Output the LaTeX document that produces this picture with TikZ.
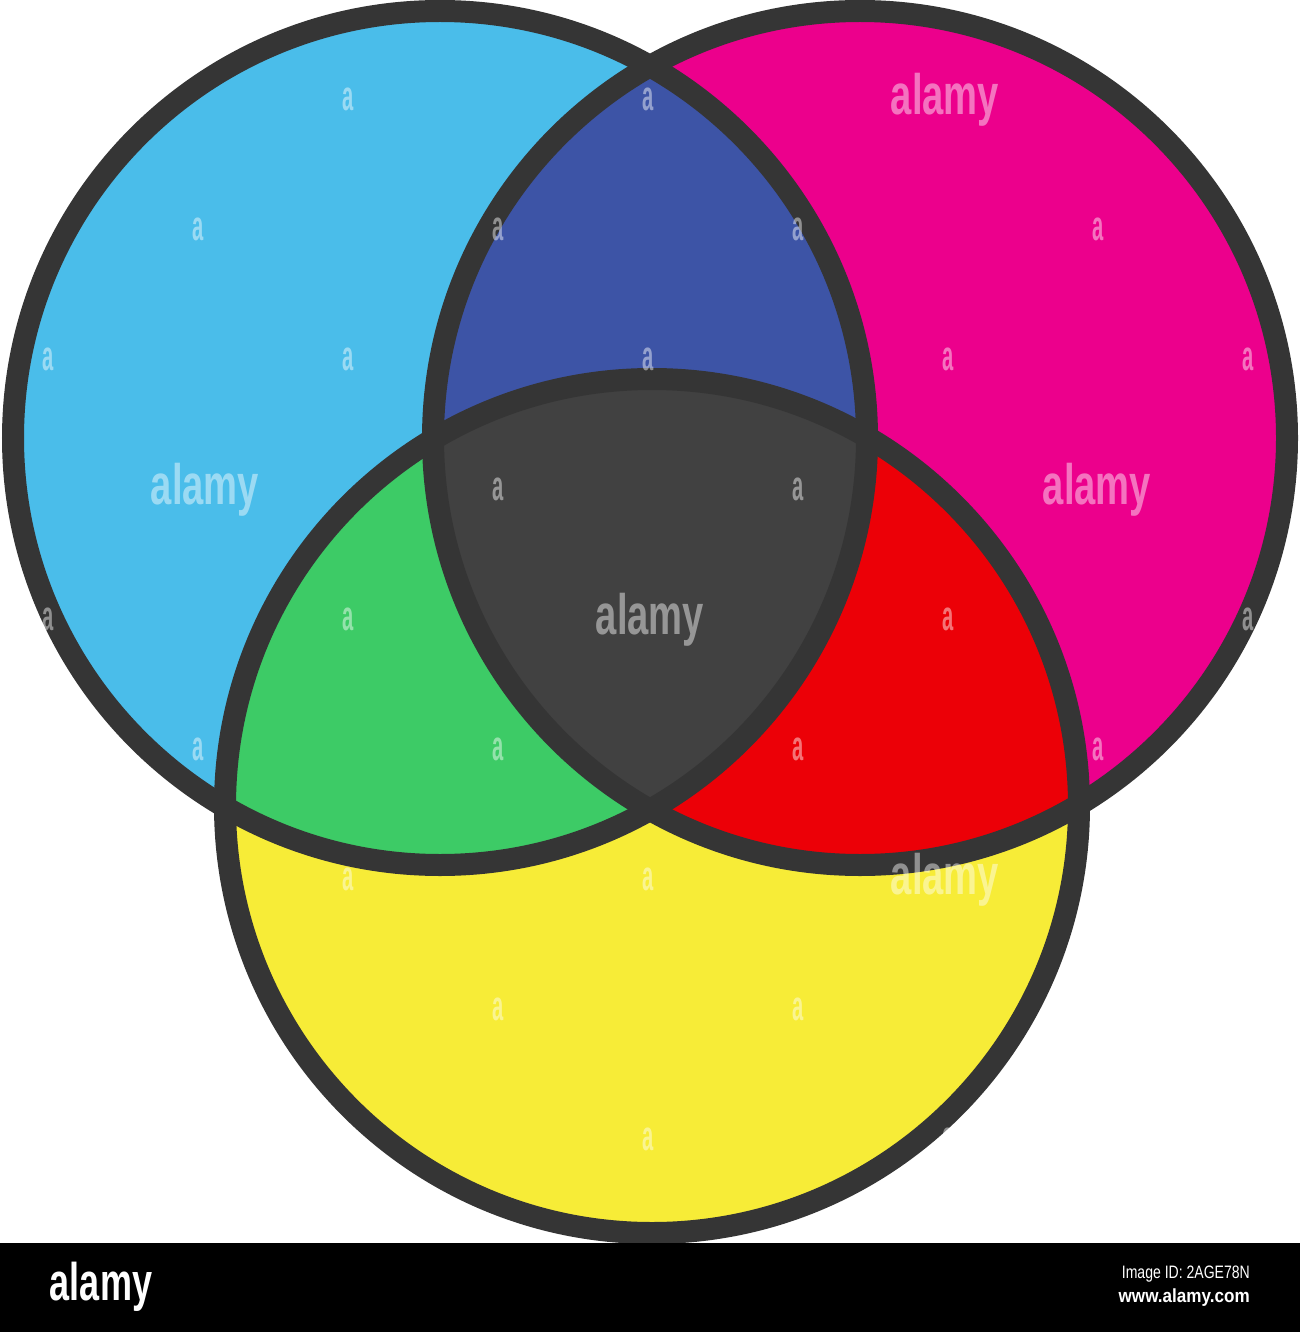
\documentclass[tikz,border=0pt]{standalone}
\usepackage{fontspec}
\setmainfont{Liberation Sans}
\begin{document}
\begin{tikzpicture}[x=1pt,y=-1pt,
  wmsmall/.style={text=white,opacity=0.45,font=\bfseries\fontsize{42}{42}\selectfont,xscale=0.48,inner sep=0pt},
  wmbig/.style={text=white,opacity=0.45,font=\bfseries\fontsize{57}{57}\selectfont,xscale=0.67,inner sep=0pt},
  outline/.style={draw=lineC,line width=22pt}]
\definecolor{cyanF}{HTML}{4ABDEA}
\definecolor{magF}{HTML}{EC008C}
\definecolor{yelF}{HTML}{F7EC37}
\definecolor{blueF}{HTML}{3D54A6}
\definecolor{greenF}{HTML}{3DCB66}
\definecolor{redF}{HTML}{EC0007}
\definecolor{darkF}{HTML}{414141}
\definecolor{lineC}{HTML}{353535}
\useasboundingbox (0,0) rectangle (1300,1332);
\fill[white] (0,0) rectangle (1300,1332);
\def\R{427pt}
\coordinate (c) at (440,438);
\coordinate (m) at (860,438);
\coordinate (y) at (652,806);
% base fills
\fill[cyanF] (c) circle[radius=\R];
\fill[magF] (m) circle[radius=\R];
\fill[yelF] (y) circle[radius=\R];
% pairwise overlaps
\begin{scope}
  \clip (c) circle[radius=\R];
  \fill[blueF] (m) circle[radius=\R];
  \fill[greenF] (y) circle[radius=\R];
\end{scope}
\begin{scope}
  \clip (m) circle[radius=\R];
  \fill[redF] (y) circle[radius=\R];
\end{scope}
\begin{scope}
  \clip (c) circle[radius=\R];
  \clip (m) circle[radius=\R];
  \fill[darkF] (y) circle[radius=\R];
\end{scope}
% outlines
\draw[outline] (c) circle[radius=\R];
\draw[outline] (m) circle[radius=\R];
\draw[outline] (y) circle[radius=\R];
% watermark grid (skipping cells covered by the large marks)
\foreach \i in {0,...,8}{
  \foreach \j in {0,...,8}{
    \pgfmathtruncatemacro{\parity}{mod(\i+\j,2)}
    \pgfmathtruncatemacro{\cell}{10*\i+\j}
    \ifnum\parity=0
      \ifnum\cell=13 \else\ifnum\cell=44 \else\ifnum\cell=60 \else\ifnum\cell=73 \else\ifnum\cell=66 \else
        \node[wmsmall] (wa-\i-\j) at ({48+150*\i},{99+130*\j}) {a};
      \fi\fi\fi\fi\fi
    \fi
  }
}
\node[wmbig] (wb1) at (945,100) {alamy};
\node[wmbig] (wb2) at (205,490) {alamy};
\node[wmbig] (wb3) at (1097,490) {alamy};
\node[wmbig] (wb4) at (650,620) {alamy};
\node[wmbig] (wb5) at (945,880) {alamy};
% bottom bar
\fill[black] (0,1243) rectangle (1300,1332);
\node[text=white,font=\bfseries\fontsize{53}{53}\selectfont,xscale=0.68,inner sep=0pt,anchor=center] (logo) at (101,1287) {alamy};
\node[text=white,font=\fontsize{18}{18}\selectfont,xscale=0.78,inner sep=0pt,anchor=east] (imgid) at (1250,1274) {Image ID: 2AGE78N};
\node[text=white,font=\bfseries\fontsize{19}{19}\selectfont,xscale=0.9,inner sep=0pt,anchor=east] (www) at (1250,1298) {www.alamy.com};
\end{tikzpicture}
\end{document}
